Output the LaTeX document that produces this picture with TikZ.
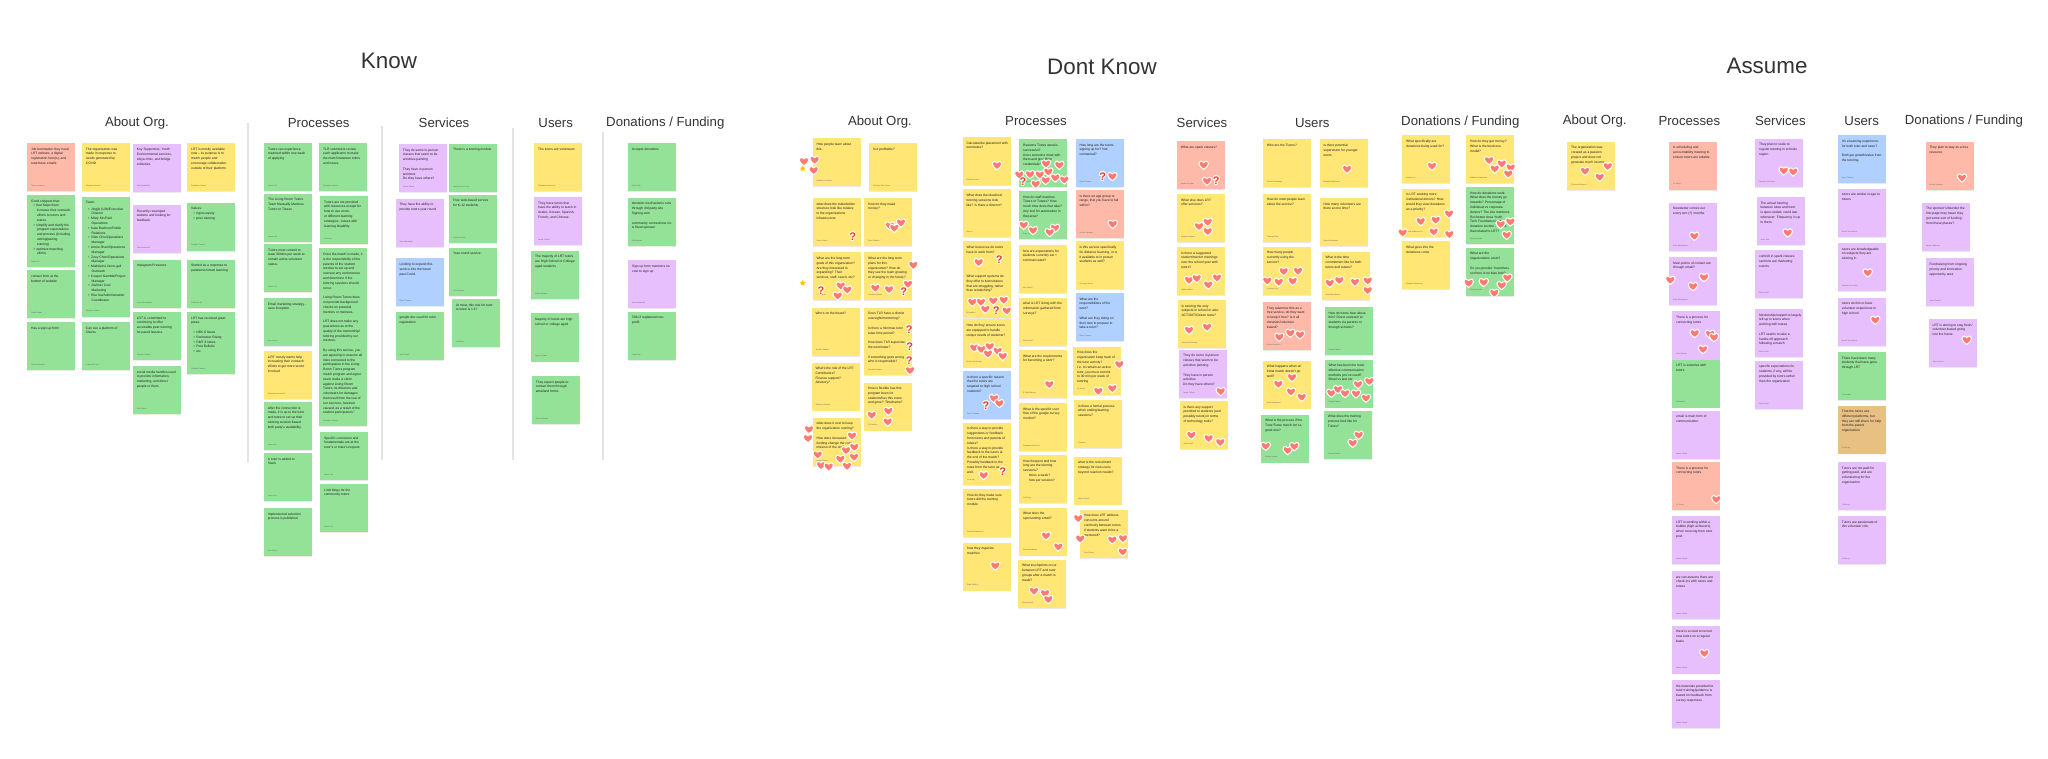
\documentclass[tikz,border=0pt]{standalone}
\usepackage{fontspec}
\setmainfont{Liberation Sans}
\usetikzlibrary{shapes.geometric,shadows}
\definecolor{ngreen}{HTML}{93E298}
\definecolor{nyellow}{HTML}{FFE675}
\definecolor{nred}{HTML}{FFB9A9}
\definecolor{npurple}{HTML}{E8BFFD}
\definecolor{nblue}{HTML}{B0D0FF}
\definecolor{norange}{HTML}{E8C084}
\definecolor{hcol}{HTML}{FF7B72}
\definecolor{qcol}{HTML}{E63B20}
\definecolor{scol}{HTML}{FFC107}
\definecolor{rulec}{HTML}{E3E3E3}
\definecolor{titlec}{HTML}{333333}
\newcounter{nn}
\newcommand{\bl}{\hspace*{2.5pt}•\hspace{1.6pt}}
\newcommand{\ind}{\hspace*{5.8pt}}
\tikzset{
  x=1pt,y=-1pt,
  notebox/.style={rectangle,anchor=north west,inner sep=0,minimum width=48pt,drop shadow={opacity=.16,shadow xshift=0pt,shadow yshift=-.9pt}},
  notetext/.style={anchor=north west,inner sep=0,align=left,text=black!88,font=\fontsize{3.3}{4.8}\selectfont},
  noteauth/.style={anchor=west,inner sep=0,text=black!60,font=\fontsize{1.9}{2.4}\selectfont},
  bigtitle/.style={inner sep=0,text=titlec,font=\fontsize{22.4}{26}\selectfont},
  subtitle/.style={inner sep=0,text=titlec,font=\fontsize{13.2}{16}\selectfont},
  rulestyle/.style={draw=rulec,line width=1.3pt},
  heartshape/.pic={\path[scale=1.14,fill=hcol,draw=white,line width=1pt,line join=round]
    (0,3.9) .. controls (-2,2.3) and (-4.2,.8) .. (-4.2,-1) .. controls (-4.2,-2.6) and (-3,-3.4) .. (-2,-3.4)
    .. controls (-1,-3.4) and (-.3,-2.8) .. (0,-2.1) .. controls (.3,-2.8) and (1,-3.4) .. (2,-3.4)
    .. controls (3,-3.4) and (4.2,-2.6) .. (4.2,-1) .. controls (4.2,.8) and (2,2.3) .. (0,3.9) -- cycle;},
  qhalo/.style={inner sep=0,text=white,font=\fontsize{11}{11}\bfseries\selectfont},
  qmain/.style={inner sep=0,text=qcol,font=\fontsize{11}{11}\bfseries\selectfont},
  starmark/.style={star,star points=5,star point ratio=2.2,inner sep=0,minimum size=8.5pt,fill=scol,draw=white,line width=.6pt}
}
% x, y, height, colour, text, author
\newcommand{\stick}[6]{\stepcounter{nn}%
  \node[notebox,minimum height=#3 pt,fill=#4] (b\thenn) at (#1,#2) {};
  \node[notetext] (t\thenn) at (#1+4,#2+4.6) {#5};
  \node[noteauth] (a\thenn) at (#1+4,#2+#3-5.3) {#6};}
\newcommand{\hh}[2]{\pic at (#1,#2) {heartshape};}
\newcommand{\qm}[2]{\stepcounter{nn}%
  \foreach \a in {0,45,...,315}{\node[qhalo,shift={(\a:.9)}] (qh\thenn-\a) at (#1,#2) {?};}
  \node[qmain] (q\thenn) at (#1,#2) {?};}
\newcommand{\st}[2]{\stepcounter{nn}\node[starmark] (s\thenn) at (#1,#2) {};}
\begin{document}
\begin{tikzpicture}
\useasboundingbox (0,0) rectangle (2048,759);
\fill[white] (0,0) rectangle (2048,759);

% titles
\node[bigtitle] (tKnow) at (389,61) {Know};
\node[bigtitle] (tDont) at (1102,67) {Dont Know};
\node[bigtitle] (tAssume) at (1767,66) {Assume};
\node[subtitle] (k1) at (137,123) {About Org.};
\node[subtitle] (k2) at (318.7,123) {Processes};
\node[subtitle] (k3) at (444,123) {Services};
\node[subtitle] (k4) at (555.7,123) {Users};
\node[subtitle] (k5) at (665.3,123) {Donations / Funding};
\node[subtitle] (d1) at (880,122) {About Org.};
\node[subtitle] (d2) at (1036,121) {Processes};
\node[subtitle] (d3) at (1202,123) {Services};
\node[subtitle] (d4) at (1312.3,123) {Users};
\node[subtitle] (d5) at (1460.3,122) {Donations / Funding};
\node[subtitle] (a1) at (1594.7,121) {About Org.};
\node[subtitle] (a2) at (1689.3,121) {Processes};
\node[subtitle] (a3) at (1780.3,121) {Services};
\node[subtitle] (a4) at (1861.7,121) {Users};
\node[subtitle] (a5) at (1964,121) {Donations / Funding};

% rules
\draw[rulestyle] (248,123) -- (248,462);
\draw[rulestyle] (382,126) -- (382,460);
\draw[rulestyle] (513,128) -- (513,460);
\draw[rulestyle] (603,132) -- (603,460);

% KNOW / About Org.
\stick{27}{143}{48}{nred}{Job Itemization they need\\LRT website, a digital\\registration form(s), and\\tutor/tutee emails}{Tanner Jackson}
\stick{81.7}{143}{48}{nyellow}{The organization was\\made in response to\\needs generated by\\COVID}{Stephanie Hanna}
\stick{132.7}{143.6}{48}{npurple}{Key Supporters- Youth\\Environmental services,\\Libya clinic, and bridge\\collective.}{Sara Vanderbilt}
\stick{187}{143}{48}{nyellow}{LRT is mostly available\\now -- its purpose is to\\match people and\\encourage collaboration\\outside of their platform.}{Stephanie Hanna}
\stick{27}{195}{71.7}{ngreen}{Good snippets that:\\\bl that helps them\\\ind increase their outreach\\\ind efforts to tutors and\\\ind tutees.\\\bl simplify and clarify the\\\ind program expectations\\\ind and process (including\\\ind vetting/pairing\\\ind tutoring)\\\bl optimize matching\\\ind efforts}{Jesse Tan}
\stick{81.7}{196.7}{120}{ngreen}{Team:\\[1.5pt]\bl Jingjie (Lift)/Executive\\\ind Director\\\bl Misty Kin/Paid\\\ind Operations\\\bl Kate Buehner/Public\\\ind Relations\\\bl Vilen Chiu/Operations\\\ind Manager\\\bl Annie Shen/Operations\\\ind Manager\\\bl Zoey Chen/Operations\\\ind Manager\\\bl Madeleine Nunn-guil\\\ind Outreach\\\bl Cooper Gamble/Project\\\ind Manager\\\bl Joshner Coe/\\\ind Marketing\\\bl Rita Sui/Administration\\\ind Coordinator}{Stephen Shapiro}
\stick{132.7}{205}{48}{npurple}{Recently revamped\\website and looking for\\feedback}{Sara Vanderbilt}
\stick{187}{202.7}{48}{ngreen}{Values:\\\bl rigors equity\\\bl peer tutoring}{Stephen Shapiro}
\stick{27}{270.3}{48}{ngreen}{contact form at the\\bottom of website}{Sarah Bonds}
\stick{132.7}{259.7}{48}{ngreen}{Instagram Presence}{Oscar Woodmann}
\stick{187}{259.7}{48}{ngreen}{Started as a response to\\pandemic/virtual learning}{Catherine Xu}
\stick{27}{322}{48}{ngreen}{Has a sign up form}{Olivia Vanderbilt}
\stick{81.7}{322}{48}{ngreen}{Can see a platform of\\Clients}{Catherine Ford}
\stick{132.7}{312}{48}{ngreen}{LRT is committed to\\continuing to offer\\accessible peer tutoring\\for pared lessons.}{Stephen Shapiro}
\stick{132.7}{366}{48}{ngreen}{social media handles used\\to provide information,\\marketing, and direct\\people to them}{Alex Farrell}
\stick{187}{312}{62}{ngreen}{LRT has received great\\press:\\[4.8pt]\bl NBC 6 News\\\bl Rochester Rising\\\bl RMT 8 News\\\bl Post Bulletin\\\bl etc.}{Stephen Shapiro}

% KNOW / Processes
\stick{264}{143}{48}{ngreen}{Tutors can experience\\matched within one week\\of applying}{Jamie Tan}
\stick{264}{193.7}{48}{ngreen}{The Living Room Tutors\\Team Manually Matches\\Tutors to Tutees}{Jamie Tan}
\stick{264}{244}{48}{ngreen}{Tutors must commit to\\least 30mins per week to\\remain active volunteer\\status.}{Jamie Tan}
\stick{263.7}{298}{48}{ngreen}{Email marketing strategy -\\uses Inception}{Alex Farrell}
\stick{263.7}{351}{48}{nyellow}{LIRT mostly wants help\\increasing their outreach\\efforts to get more senior\\involved}{Stephanie Hanna Xu}
\stick{263.7}{402}{48}{ngreen}{After the connection is\\made, it is up to the tutor\\and tutee to set up their\\tutoring session based\\both party's availability.}{Jamie Tan}
\stick{263.7}{453}{48}{ngreen}{A tutor is added to\\Slack}{Jamie Tan}
\stick{263.7}{508}{48}{ngreen}{Implemented selection\\process is published}{Alex Farrell}
\stick{319}{143}{48}{ngreen}{TLR volunteers review\\each applicants to make\\the match between tutors\\and tutees}{Stephanie Hanna}
\stick{320}{196}{48}{ngreen}{Tutors are not provided\\with resources except for\\how to use zoom,\\or different learning\\strategies - tutees with\\learning disability}{Jo Wong}
\stick{319}{248.3}{177.7}{ngreen}{Once the match is made, it\\is the responsibility of the\\parents of the student\\mentee to set up and\\oversee any conferences\\and determine if the\\tutoring sessions should\\occur.\\[4.8pt]Living Room Tutors does\\not provide background\\checks on potential\\mentors or mentees.\\[4.8pt]LRT does not make any\\guarantees as to the\\quality of the mentorship/\\tutoring provided by our\\mentors.\\[4.8pt]By using this service, you\\are agreeing to assume all\\risks connected to the\\participation in the Living\\Room Tutors program\\match program and agree\\never make a claim\\against Living Room\\Tutors, its directors and\\volunteers for damages\\that result from the use of\\our services, however\\caused, as a result of the\\student participation."}{Stephanie Hanna}
\stick{320}{432}{48}{ngreen}{Specific curriculum and\\fundamentals are at the\\tutor's or tutee's request.}{Jamie Tan}
\stick{320}{484}{48}{ngreen}{Limit blogs for the\\community tutors}{Jamie Tan}

% KNOW / Services
\stick{398.7}{144}{48}{npurple}{They do some in-person\\classes that seem to be\\activities painting\\[4.8pt]They have in person\\activities\\Do they have others?}{Jacob Tolliver}
\stick{449}{143.7}{48}{ngreen}{There is a tutoring module}{Jennifer Ann Lowe}
\stick{395.3}{198.7}{48}{npurple}{They have the ability to\\provide tutors year round}{Sara Vanderbilt}
\stick{449}{194.7}{48}{ngreen}{Free web-based service\\for K-12 students}{Thomas Smith}
\stick{449}{247.7}{48}{ngreen}{Year-round service.}{Chris Barnes}
\stick{395.3}{258.3}{48}{nblue}{Looking to expand this\\service into the future\\past Covid.}{Ryan Thomas}
\stick{451.7}{299}{48}{ngreen}{At most, this role for tutor\\to tutee is 1:1?}{Jo Wong}
\stick{395.3}{311.7}{48}{ngreen}{google doc used for tutor\\registration}{Alex Farrell}

% KNOW / Users
\stick{534}{143}{48}{nyellow}{The tutors are volunteers}{Stephanie Hanna Xu}
\stick{534}{197}{48}{npurple}{They have tutors that\\have the ability to teach in\\Arabic, Korean, Spanish,\\French, and Chinese.}{Jacob Tolliver}
\stick{531}{250.7}{48}{ngreen}{The majority of LRT tutors\\are High School or College\\aged students}{Maura Weaver}
\stick{531}{313.3}{48}{ngreen}{Majority of tutors are high\\school or college aged}{Jennie Gower}
\stick{531.7}{376}{48}{ngreen}{They expect people to\\contact them through\\emailand forms}{Maura Weaver}

% KNOW / Donations
\stick{627.7}{143}{48}{ngreen}{Accepts donations}{Jamie Tan}
\stick{627.7}{197.7}{48}{ngreen}{donation mechanisms runs\\through 3rd party site\\Signing.com\\[4.8pt]community connections inc\\is fiscal sponsor}{Erin Barnett}
\stick{628}{260.3}{48}{npurple}{Sign up form mentions no\\cost to sign up}{Sara Vanderbilt}
\stick{628}{311.7}{48}{ngreen}{501c3 registered non-\\profit}{Justin Tan}

% DONT KNOW / About Org.
\stick{812.3}{138.3}{48}{nyellow}{How people learn about\\this.}{Heather Liu Jones}
\stick{869}{143}{48}{nyellow}{Is it profitable?}{Kathleen Tan Jones}
\stick{812.3}{198}{48}{nyellow}{what does the stakeholder\\structure look like relative\\to the organizations\\infrastructure}{Jason Farrell}
\stick{864}{198}{48}{nyellow}{How do they make\\money?}{Erica Shapiro}
\stick{812.3}{252.3}{48}{nyellow}{What are the long term\\goals of this organization?\\Are they interested in\\expanding? Their\\services, staff, reach, etc?}{J. Simpson}
\stick{864}{252.3}{48}{nyellow}{What are the long term\\plans for this\\organization? How do\\they see the team growing\\or changing in the future?}{Christine Nelson}
\stick{811.3}{307.7}{48}{nyellow}{Who's on the board?}{Jennifer Shapiro}
\stick{864}{307.7}{67.3}{nyellow}{Does TLR have a district\\oversight/monitoring?\\[4.8pt]Is there a min/max tutor\\tutee time period?\\[4.8pt]How does TLR supervise\\the tutor/tutee?\\[4.8pt]If something goes wrong\\who is responsible?}{Jennifer Shapiro}
\stick{811.3}{362.3}{48}{nyellow}{What's the role of the LRT\\Contributors?\\Finance support?\\Advisory?}{Shannon Shapiro}
\stick{864}{382.3}{48}{nyellow}{How is flexible has this\\program been for\\students/has this come\\and gone? Timeframe?}{Al Hendon}
\stick{812.3}{417.7}{48}{nyellow}{what does it cost to keep\\the organization running?\\[4.8pt]How does increased\\funding change the core\\mission of the org?}{Jason Farrell}

% DONT KNOW / Processes
\stick{962.3}{137}{48}{nyellow}{Calculate/be placement with\\tutor/tutee?}{Colleen Jones}
\stick{962.3}{189.3}{48}{nyellow}{What does the ideal/real\\tutoring sessions look\\like? Is there a director?}{Alex Lo}
\stick{962.3}{241.3}{77}{nyellow}{What resources do tutors\\have to work from?\\[19.5pt]What support systems do\\they offer to tutors/tutees\\that are struggling, rather\\than rematching?}{Al Hendon}
\stick{962.3}{319.3}{48}{nyellow}{How do they ensure tutors\\are equipped to handle\\unique needs of students?}{Nicole Tan Hanna}
\stick{963}{371}{48}{nblue}{Is there a specific reason\\that the tutors are\\targeted to high school\\students?}{Ryan Thomas}
\stick{963}{422.7}{62.3}{nyellow}{Is there a way to provide\\suggestions or feedback\\from tutors and parents of\\tutees?\\Is there a way to provide\\feedback to the tutors at\\the end of the match?\\Possibly feedback to the\\tutee from the tutor as\\well.}{Jo Wong}
\stick{963}{489}{48}{nyellow}{How do they make sure\\tutors did the training\\module}{Randall Hawthorne}
\stick{963}{542.3}{48}{nyellow}{how they organize\\matches}{Brad Smith Jr.}
\stick{1019}{139.3}{48}{ngreen}{Reasons Tutors were/is\\successful?\\Does someone meet with\\them and give them\\credentials?}{Kat Morales}
\stick{1019}{191}{48}{ngreen}{How do staff matches\\Tutors or Tutees? How\\much time does that take?\\Any tool for automation in\\that area?}{Zoey Chen}
\stick{1018.7}{245}{48}{nyellow}{how are expectations for\\students currently set +\\communicated?}{Alex Farrell}
\stick{1019}{297.7}{48}{nyellow}{what is LRT doing with the\\information gathered from\\surveys?}{Alex Farrell}
\stick{1019}{350}{48}{nyellow}{What are the requirements\\for becoming a tutor?}{E Scott Barnes}
\stick{1019}{403}{48}{nyellow}{What is the specific user\\flow of the google survey\\monitor?}{Stephanie Hanna Jr.}
\stick{1019}{455}{48}{nyellow}{How frequent and how\\long are the tutoring\\sessions?\\\ind times a week?\\\ind how per session?}{Jo Wong}
\stick{1019}{507.3}{48}{nyellow}{What does the\\sponsorship entail?}{Nora Henderson}
\stick{1018}{559.7}{48}{nyellow}{What touchpoints occur\\between LRT and tutor\\groups after a match is\\made?}{Alex Fenwick}
\stick{1075.3}{139}{48}{nblue}{How long are the tutors\\signing up for? Not\\contracted?}{Ryan Thomas}
\stick{1075.3}{190}{48}{nred}{Is there an age group or\\range, that you have to fall\\within?}{Brooke Jackson}
\stick{1075.3}{241.3}{48}{nyellow}{Is this service specifically\\for distance learning, or is\\it available to in person\\students as well?}{Courtney Jones}
\stick{1075.3}{293}{48}{nblue}{What are the\\responsibilities of the\\tutor?\\[4.8pt]What are they doing on\\their own to prepare to\\take a tutor?}{Ryan Thomas}
\stick{1073}{346.7}{48}{nyellow}{How does the\\organization keep track of\\the tutor activity?\\I.e. to remain an active\\tutor, you must commit\\to 30 min per week of\\tutoring}{Jo Wong}
\stick{1074}{400}{48}{nyellow}{Is there a formal process\\when ending/starting\\sessions?}{D Hanna}
\stick{1074}{456.3}{48}{nyellow}{what is the recruitment\\strategy for new users\\beyond reaction needs?}{Jason Farrell}
\stick{1080}{509.7}{48}{nyellow}{How does LRT address\\concerns around\\continuity between tutors\\if students want to be a\\mentored?}{Alex Tanner}

% DONT KNOW / Services
\stick{1176.7}{141}{48}{nred}{What are spark classes?}{Maura Douglas}
\stick{1177}{194}{48}{nyellow}{What else does LRT\\offer services?}{Stephen Megan}
\stick{1177}{247}{48}{nyellow}{Is there a suggested\\student/mentor meetings\\over the school year with\\tutors?}{Nathan Bates}
\stick{1177.3}{300}{48}{nyellow}{Is tutoring the only\\subjects in school or also\\ACT/SAT/Citizen tests?}{Casey Dan Banner}
\stick{1179}{349.7}{48}{npurple}{They do some in-person\\classes that seem to be\\activities painting\\[4.8pt]They have in person\\activities\\Do they have others?}{Jacob Tolliver}
\stick{1179.3}{401}{48}{nyellow}{Is there any support\\provided to students (and\\possibly tutors) in terms\\of technology tools?}{Alex Farrell}

% DONT KNOW / Users
\stick{1262.7}{139.3}{48}{nyellow}{Who are the Tutors?}{Oscar Woodmann}
\stick{1262.7}{193.7}{48}{nyellow}{How do most people learn\\about the service?}{Thomas Ross}
\stick{1262.7}{246.7}{48}{nyellow}{How many people\\currently using the\\service?}{Courtney Fox}
\stick{1262.7}{302}{48}{nred}{They advertise this as a\\free service, do they want\\to keep it free? Is it all\\donation/volunteer\\based?}{Brooke Jackson}
\stick{1262.7}{360.3}{48}{nyellow}{What happens when an\\initial match doesn't go\\well?}{Nora Henderson}
\stick{1261}{414.3}{48}{ngreen}{What is the process if the\\Tutor/Tutee match isn't a\\good one?}{Kelsey Sparks}
\stick{1319.3}{139.3}{48}{nyellow}{Is there potential\\supervision for younger\\tutors}{Randall Hawthorne}
\stick{1319.3}{198}{48}{nyellow}{How many volunteers are\\there at one time?}{Brian Woodmann}
\stick{1321.3}{251.7}{48}{nyellow}{What is the time\\commitment like for both\\tutors and tutees?}{Brian Woodmann}
\stick{1324.3}{307}{48}{ngreen}{How do tutors hear about\\this? Direct outreach to\\students via parents or\\through schools?}{Kelsey Sparks}
\stick{1324.3}{359.3}{48}{ngreen}{What has been the most\\effective communication\\methods you've used?\\Email vs text etc}{Kelsey Sparks}
\stick{1323.7}{410.7}{48}{ngreen}{What does the training\\process look like for\\Tutors?}{Jessica Fulton}

% DONT KNOW / Donations
\stick{1402}{135.3}{48}{nyellow}{What specifically are\\donations being used for?}{Heather Lo}
\stick{1402}{188.7}{48}{nyellow}{Is LRT seeking more\\institutional donors? How\\would they view donations\\as a priority?}{Jacob Anderson Xu}
\stick{1402}{241.3}{48}{nyellow}{What goes into the\\donations come}{Brendan Smartman}
\stick{1466}{135.3}{48}{nyellow}{How do they get money?\\What is the business\\model?}{Madeline Smartman}
\stick{1466}{187}{57.3}{ngreen}{How do donations work:\\What does the money go\\towards? Percentage of\\individual vs corporate\\donors? The site mentions\\Rochester Area Youth\\Tech Foundation in the\\donation section - how is\\that related to LRT?}{Kelsey Sparks}
\stick{1466}{247.7}{48}{ngreen}{What are the\\organizations costs?\\[4.8pt]Do you provide 'Incentives\\so there is no bias look?}{Kelsey Sparks}

% ASSUME
\stick{1567}{141.7}{48}{nyellow}{The organization was\\created as a passion\\project and does not\\generate much income.}{Christine Nelson Jr}
\stick{1669}{141.7}{48}{nred}{A scheduling and\\accountability meeting to\\ensure tutors are reliable}{Jo Wong}
\stick{1669}{202.7}{48}{npurple}{Newsletter comes out\\every two (?) months.}{Brian Woodmann}
\stick{1669}{257}{48}{npurple}{Main points of contact are\\through email?}{Brian Woodmann}
\stick{1672}{311.3}{48}{npurple}{There is a process for\\connecting tutors}{Chris Barnes}
\stick{1672}{359.3}{48}{ngreen}{LRT is selective with\\tutors}{Al Hendon}
\stick{1672}{410.7}{48}{npurple}{email is main form of\\communication}{Jason Farrell}
\stick{1672}{462}{48}{nred}{There is a process for\\connecting tutors.}{Jo Wong}
\stick{1672}{516}{48}{npurple}{LRT is working within a\\bubble (high achievers)\\when sourcing from tutor\\pool}{Jason Farrell}
\stick{1672}{571}{48}{npurple}{we can assume there are\\check-ins with tutors and\\tutees}{Jason Farrell}
\stick{1672}{625.3}{48}{npurple}{there is a need to recruit\\new tutors on a regular\\basis}{Jason Farrell}
\stick{1672}{680}{48}{npurple}{the materials provided for\\tutor training/guidance is\\based on feedback from\\survey responses}{Jason Farrell}
\stick{1755}{138.7}{48}{npurple}{They plan to scale to\\regular tutoring in schools\\region}{Jennifer Ann Lowe}
\stick{1756.3}{197}{48}{npurple}{The actual tutoring\\between tutee and tutor\\is open-ended, could last\\whenever. Frequency is up\\to them.}{Jesse Tan}
\stick{1755}{250.3}{48}{npurple}{control/ in spark classes\\sections are marketing\\events}{Alex Farrell}
\stick{1755}{309}{48}{npurple}{Mentorship/support is largely\\left up to tutors when\\working with tutees\\[4.8pt]LRT seems to take a\\hands-off approach\\following a match}{Alex Farrell}
\stick{1755}{360.7}{48}{npurple}{specific expectations for\\students, if any, will be\\provided by tutors rather\\than the organization}{Alex Farrell}
\stick{1837.7}{135.3}{48}{nblue}{It's a learning experience\\for both tutor and tutee?\\[4.8pt]Both get growth/value from\\the tutoring.}{Ryan Thomas}
\stick{1837.7}{188.7}{48}{npurple}{tutors are similar in age to\\tutees}{Nicole Tan Hanna}
\stick{1837.7}{243}{48}{npurple}{tutors are knowledgeable\\on subjects they are\\tutoring in}{Jennifer Ann Lowe}
\stick{1837.7}{297.7}{48}{npurple}{tutors do this to have\\volunteer experience in\\high school}{Nicole Tan Hanna}
\stick{1837.7}{352}{48}{ngreen}{There have been many\\students that have gone\\through LRT}{Al Hendon}
\stick{1837.7}{405.3}{48}{norange}{That the tutors use\\different platforms, but\\they can still share for help\\from the parent\\organization}{Jo Wong}
\stick{1837.7}{462}{48}{npurple}{Tutors are not paid for\\getting paid, and are\\volunteering for the\\organization}{Jo Wong}
\stick{1837.7}{516}{48}{npurple}{Tutors are passionate of\\this volunteer role.}{Jo Wong}
\stick{1925.3}{141.7}{48}{nred}{They plan to stay as a free\\resource}{Brooke Jackson}
\stick{1922}{202.7}{48}{npurple}{The sponsor's/founder the\\first page may mean they\\got some sort of funding\\from these places?}{Jacob Anderson}
\stick{1925.3}{258.3}{48}{npurple}{Fundraising from ongoing\\priority and Innovation\\opportunity area}{Jason Farrell}
\stick{1928.3}{319}{48}{npurple}{LRT is aiming to stay fresh/\\volunteer-based going\\into the future}{Jason Farrell}

% stars, question marks, hearts: DK About
\st{802.7}{168.7}\st{802.7}{283}
\foreach \p/\q in {804/161.3,814.7/160,813.7/170.3,840.7/285.7,847.3/289.7,837.7/295.7,890/225.7,901/222.7,894.3/228,875.3/288,889/289.3,913.3/265,908/284,910/370.3,871.7/415,887.7/421.7,888.3/411,809/429.3,808/438.3,852/435.7,854.3/447,846/450.3,817.7/454.7,854/457,840.3/459,821/465.3,828.7/466.7,847/466}{\hh{\p}{\q}}
\qm{852.7}{237}\qm{821}{290.7}\qm{903.7}{292}\qm{909.3}{329.3}\qm{909.7}{346.3}\qm{909.3}{360.3}
% DK Processes
\foreach \p/\q in {997/165.3,1046/163.7,1059.3/165,1048.3/171.7,1019.3/174.7,1030/174.3,1039.7/174.7,1055.3/177.7,1064.3/179.7,1045.7/180.3,1035.7/184,1112.3/176.3,1112.7/224,1023.7/225,1033/230.3,1055/228,1049.7/232.3,978.7/262.3,972.3/302,981/302,993.3/300.7,1003.7/300,985.3/309,1006.7/310.7,974.3/347.7,981.3/349.3,989.7/346.3,988/353.7,997.7/351,1002.7/356,994/398.3,999.3/403.3,983.7/475.3,995.3/565.7,1049.3/384.3,1046/535.7,1058.3/546.7,1034/591,1045/593.3,1048.3/599.3,1119.3/364.3,1098.3/391,1112.3/388.3,1078.3/518.3,1080.3/538.7,1112.3/539.7,1123/538.3,1122.7/551.7}{\hh{\p}{\q}}
\qm{1023}{182}\qm{1102.7}{176.7}\qm{999.3}{260}\qm{996.3}{310.3}\qm{986}{405.7}\qm{1002.7}{472}
% DK Services
\foreach \p/\q in {1203.7/165,1207/181,1199/226.3,1207.7/222,1207.7/231.3,1189/280,1196.7/278.3,1208.3/284.7,1217/277.7,1189/330,1207/327,1220.7/391.3,1191.3/435,1208.7/438.3,1220.3/442.3}{\hh{\p}{\q}}
\qm{1216.3}{180.7}
% DK Users
\foreach \p/\q in {1283.7/271.3,1298/271,1267.3/280.7,1278.7/282,1292.7/281,1279.3/337,1290.3/333,1300/334.7,1292/377.3,1278.3/384,1291/391.7,1301.7/397,1265.7/446,1287.7/450.3,1294.3/446.3,1347/169,1329.7/283,1339.3/280.3,1355/282,1367.7/280.7,1367.7/290.3,1369.3/381.3,1358/384.3,1331.3/393,1338/389.3,1345/393.3,1356/393.7,1366/398,1358.7/435,1352.7/443}{\hh{\p}{\q}}
% DK Donations
\foreach \p/\q in {1432/166,1420.7/221.3,1435.7/220,1449/213.7,1433.7/231.7,1449.3/234.3,1402.7/232.7,1489/160.3,1501.7/163.7,1494.7/168.7,1510.7/167.7,1508.3/173.7,1500.7/224.3,1510.3/221.7,1506.7/235,1468.7/283,1483.7/282.3,1507.3/277.7,1501.7/285.3,1494.3/293}{\hh{\p}{\q}}
% Assume
\foreach \p/\q in {1607.7/166.3,1585/171,1599.7/177,1694.3/236,1704/277.3,1670.3/280,1693/286.3,1694.7/333.3,1710/334,1714/337.3,1703/349.3,1716.3/499.3,1704.3/653.3,1783.7/170.7,1793.3/171.7,1787.7/232.7,1867.7/272.7,1875.3/320,1962/177.7,1966.7/340}{\hh{\p}{\q}}
\end{tikzpicture}
\end{document}
